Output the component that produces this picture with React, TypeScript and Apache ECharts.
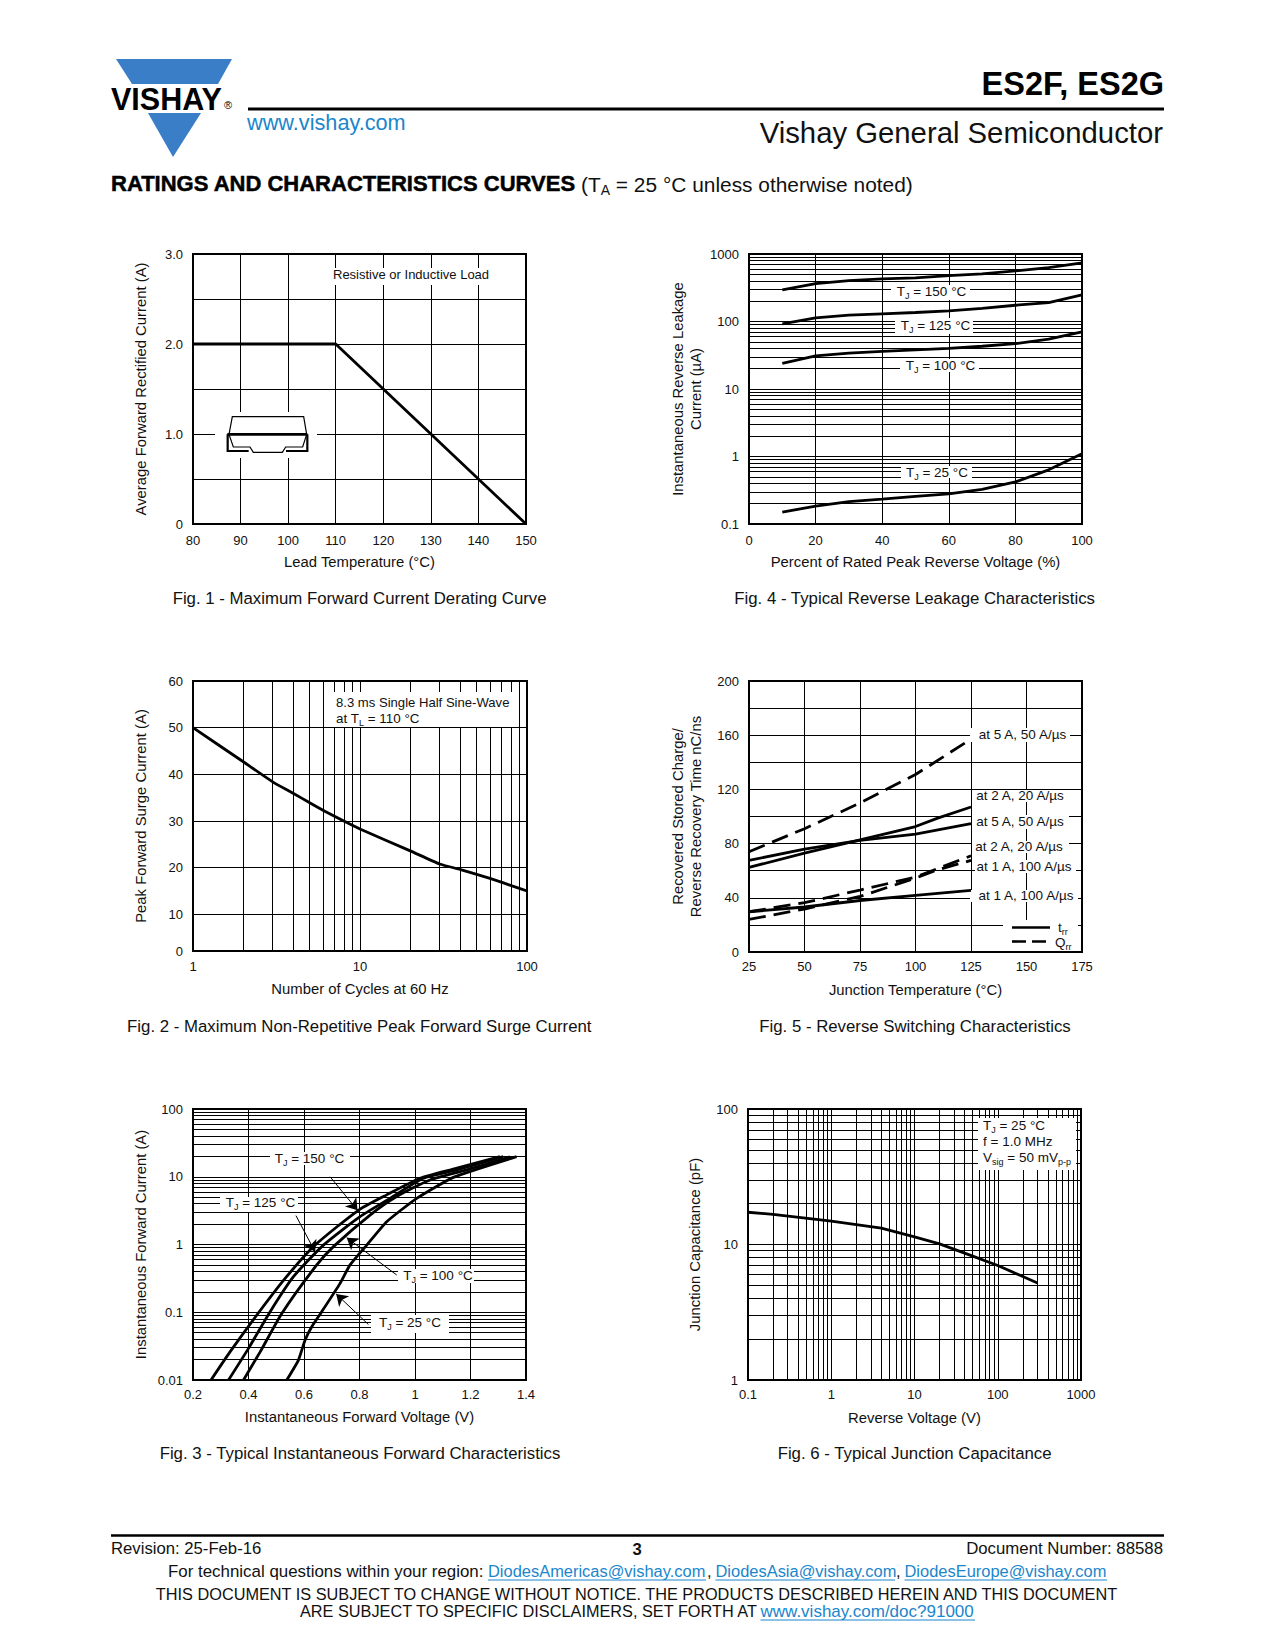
import React, { useEffect, useRef } from "react";
import * as echarts from "echarts";

const FONT = '"Liberation Sans", Arial, sans-serif';
const LINK = "#1a86cc";
const LOGO = "#3b7ec8";

// ---------- Fig. 1 ----------
const fig1Temp = [80, 110, 150];
const fig1Current = [2, 2, 0];

// ---------- Fig. 2 ----------
const fig2Cycles = [1, 2, 3, 4, 5, 6, 8, 10, 20, 30, 40, 60, 100];
const fig2Surge = [50, 42.7, 38.4, 35.9, 33.9, 32.3, 30, 28.3, 23.6, 20.8, 19.6, 17.7, 15];
const fig2AxisFloor = 2.15; // the printed "0" tick sits here on the original's scale
const fig2YTicks = [fig2AxisFloor, 10, 20, 30, 40, 50, 60];

// ---------- Fig. 3 ----------
const fig3V150 = [0.265, 0.334, 0.43, 0.532, 0.64, 0.796, 0.898, 1.018, 1.138, 1.306];
const fig3I150 = [0.01, 0.0262, 0.091, 0.316, 0.98, 3.2, 5.4, 9.5, 13, 19.8];
const fig3V125 = [0.328, 0.4, 0.478, 0.562, 0.67, 0.802, 0.91, 1.03, 1.15, 1.318];
const fig3I125 = [0.01, 0.0293, 0.102, 0.335, 0.98, 2.58, 4.8, 9.5, 12.6, 19.8];
const fig3V100 = [0.382, 0.442, 0.52, 0.646, 0.706, 0.838, 0.934, 1.054, 1.186, 1.342];
const fig3I100 = [0.01, 0.026, 0.096, 0.5, 0.93, 2.72, 5.1, 8.95, 12.6, 19.6];
const fig3V25 = [0.538, 0.58, 0.604, 0.628, 0.664, 0.73, 0.766, 0.826, 0.898, 1.006, 1.138, 1.366];
const fig3I25 = [0.01, 0.0197, 0.039, 0.0612, 0.102, 0.267, 0.5, 0.98, 2.17, 4.8, 9.8, 19.8];
const fig3Arrows = [
  [0.694, 10, 0.793, 3.2],
  [0.571, 2.67, 0.64, 0.78],
  [0.934, 0.355, 0.754, 1.26],
  [0.832, 0.066, 0.716, 0.186],
];

// ---------- Fig. 4 ----------
const fig4Percent = [10, 20, 30, 40, 50, 60, 70, 80, 90, 100];
const fig4Tj150 = [294, 365, 403, 427, 442, 479, 506, 561, 628, 736];
const fig4Tj125 = [92, 113, 124, 130, 136, 144, 157, 174, 191, 248];
const fig4Tj100 = [24, 31, 34, 36, 38, 40, 43, 47, 55, 70];
const fig4Tj25 = [0.15, 0.184, 0.214, 0.234, 0.256, 0.28, 0.325, 0.42, 0.635, 1.1];

// ---------- Fig. 5 ----------
const fig5TempA = [25, 50, 75, 100, 110, 125];
const fig5Trr2A = [62.4, 73, 82.8, 92.6, 98.8, 107];
const fig5Temp = [25, 50, 75, 100, 125];
const fig5Trr5A = [67.6, 76, 82.3, 87, 94.8];
const fig5Trr1A = [29.7, 33.2, 38, 41.8, 45.5];
const fig5TempQ5 = [25, 50, 75, 100, 124];
const fig5Qrr5A = [74, 91, 110, 131, 156];
const fig5Qrr2A = [29.7, 36.4, 45.7, 55.3, 71];
const fig5Qrr1A = [24, 31.7, 41, 54.5, 60.7, 67.6];

// ---------- Fig. 6 ----------
const fig6Volt = [0.1, 0.2, 1, 4, 10, 20, 50, 100, 300];
const fig6Cap = [17.3, 16.7, 14.9, 13.2, 11.4, 10.1, 8.2, 7.0, 5.2];

// ---------- Log-grid decades ----------
const logMinor = (decades: number[]) => {
  const out: number[] = [];
  decades.forEach((d) => [2, 3, 4, 5, 6, 7, 8, 9].forEach((m) => out.push(+(d * m).toPrecision(3))));
  return out;
};
const fig2XGrid = logMinor([1, 10]);
const fig3YGrid = logMinor([0.01, 0.1, 1, 10]);
const fig4YGrid = logMinor([0.1, 1, 10, 100]);
const fig6XGrid = logMinor([0.1, 1, 10, 100]);
const fig6YGrid = logMinor([1, 10]);

const zip = (a: number[], b: number[]) => b.map((v, i) => [a[i], v]);

function curve(i: number, xs: number[], ys: number[], name: string, dashed = false, smooth: any = false) {
  return {
    type: "line", name, xAxisIndex: i, yAxisIndex: i, data: zip(xs, ys), showSymbol: false, symbol: "none", z: 10, smooth,
    lineStyle: { color: "#000", width: 2.8, type: dashed ? [17, 8] : "solid", cap: "butt" },
  };
}
function gridLines(i: number, xv: number[], yv: number[]) {
  return {
    type: "line", xAxisIndex: i, yAxisIndex: i, data: [], z: 1, silent: true,
    markLine: {
      z: 1, silent: true, symbol: "none", label: { show: false }, animation: false,
      lineStyle: { color: "#000", width: 1, type: "solid" },
      data: [...xv.map((v) => ({ xAxis: v })), ...yv.map((v) => ({ yAxis: v }))],
    },
  };
}

const grids = [
  { left: 193, top: 254, width: 333, height: 270 },
  { left: 193, top: 681, width: 334, height: 270 },
  { left: 193, top: 1109, width: 333, height: 271 },
  { left: 749, top: 254, width: 333, height: 270 },
  { left: 749, top: 681, width: 333, height: 271 },
  { left: 748, top: 1109, width: 333, height: 271 },
];

const str = (v: number) => String(+v.toPrecision(4));
const labelStyle = (formatter: any, margin = 9) => ({ fontSize: 13, margin, color: "#111", fontFamily: FONT, formatter, showMinLabel: true, showMaxLabel: true, hideOverlap: false });
const yLabelStyle = (formatter: any) => ({ ...labelStyle(formatter, 10), padding: [0, 0, 3, 0] });
const line1 = { show: true, lineStyle: { color: "#000", width: 1 } };
function axis(gridIndex: number, name: string, extra: any, gap: number, lh = 18) {
  return {
    gridIndex, name, nameLocation: "middle", nameGap: gap,
    nameTextStyle: { fontSize: 14.85, color: "#111", fontFamily: FONT, lineHeight: lh },
    axisLine: { show: false }, axisTick: { show: false }, splitLine: line1, minorSplitLine: { show: false },
    ...extra,
  };
}

const xAxes = [
  axis(0, "Lead Temperature (°C)", { type: "value", min: 80, max: 150, interval: 10, axisLabel: labelStyle(str, 10) }, 29),
  axis(1, "Number of Cycles at 60 Hz", { type: "log", logBase: 10, min: 1, max: 100, axisLabel: labelStyle(str) }, 29),
  axis(2, "Instantaneous Forward Voltage (V)", { type: "value", min: 0.2, max: 1.4, interval: 0.2, axisLabel: labelStyle(str, 8) }, 28),
  axis(3, "Percent of Rated Peak Reverse Voltage (%)", { type: "value", min: 0, max: 100, interval: 20, axisLabel: labelStyle(str, 10) }, 29),
  axis(4, "Junction Temperature (°C)", { type: "value", min: 25, max: 175, interval: 25, axisLabel: labelStyle(str, 8) }, 29),
  axis(5, "Reverse Voltage (V)", { type: "log", logBase: 10, min: 0.1, max: 1000, axisLabel: labelStyle(str, 8) }, 29),
];
const yAxes = [
  axis(0, "Average Forward Rectified Current (A)", { type: "value", min: 0, max: 3, interval: 0.5, axisLabel: yLabelStyle((v: number) => (v === 0 ? "0" : Number.isInteger(v) ? v.toFixed(1) : "")) }, 43),
  axis(1, "Peak Forward Surge Current (A)", {
    type: "value", min: fig2AxisFloor, max: 60,
    axisLabel: { ...yLabelStyle((v: number) => (v < 5 ? "0" : String(v))), customValues: fig2YTicks },
    axisTick: { show: false, customValues: fig2YTicks },
  }, 43),
  axis(2, "Instantaneous Forward Current (A)", { type: "log", logBase: 10, min: 0.01, max: 100, axisLabel: yLabelStyle(str) }, 43),
  axis(3, "Instantaneous Reverse Leakage\nCurrent (µA)", { type: "log", logBase: 10, min: 0.1, max: 1000, axisLabel: yLabelStyle(str) }, 44),
  axis(4, "Recovered Stored Charge/\nReverse Recovery Time nC/ns", { type: "value", min: 0, max: 200, interval: 20, axisLabel: yLabelStyle((v: number) => (v % 40 === 0 ? String(v) : "")) }, 44),
  axis(5, "Junction Capacitance (pF)", { type: "log", logBase: 10, min: 1, max: 100, axisLabel: yLabelStyle(str) }, 44),
];

const series: any[] = [
  gridLines(1, fig2XGrid, []),
  gridLines(2, [], fig3YGrid),
  gridLines(3, [], fig4YGrid),
  gridLines(5, fig6XGrid, fig6YGrid),
  curve(0, fig1Temp, fig1Current, "Derating"),
  curve(1, fig2Cycles, fig2Surge, "Surge", false, 0.2),
  curve(2, fig3V150, fig3I150, "TJ = 150 °C", false, 0.2),
  curve(2, fig3V125, fig3I125, "TJ = 125 °C", false, 0.2),
  curve(2, fig3V100, fig3I100, "TJ = 100 °C", false, 0.2),
  curve(2, fig3V25, fig3I25, "TJ = 25 °C", false, 0.15),
  {
    type: "line", xAxisIndex: 2, yAxisIndex: 2, data: [], z: 12, silent: true,
    markLine: {
      z: 12, silent: true, symbol: ["none", "arrow"], symbolSize: 11, label: { show: false }, animation: false,
      lineStyle: { color: "#000", width: 1, type: "solid" },
      data: fig3Arrows.map((a) => [{ coord: [a[0], a[1]] }, { coord: [a[2], a[3]] }]),
    },
  },
  curve(3, fig4Percent, fig4Tj150, "TJ = 150 °C"),
  curve(3, fig4Percent, fig4Tj125, "TJ = 125 °C"),
  curve(3, fig4Percent, fig4Tj100, "TJ = 100 °C"),
  curve(3, fig4Percent, fig4Tj25, "TJ = 25 °C"),
  curve(4, fig5TempA, fig5Trr2A, "trr 2 A"),
  curve(4, fig5Temp, fig5Trr5A, "trr 5 A"),
  curve(4, fig5Temp, fig5Trr1A, "trr 1 A"),
  curve(4, fig5TempQ5, fig5Qrr5A, "Qrr 5 A", true),
  curve(4, fig5Temp, fig5Qrr2A, "Qrr 2 A", true),
  curve(4, fig5TempA, fig5Qrr1A, "Qrr 1 A", true),
  curve(5, fig6Volt, fig6Cap, "Cj"),
];

// ---------- Page furniture ----------
const rich = (size: number, fill = "#111") => ({
  n: { fontSize: size, fontFamily: FONT, fill, lineHeight: size + 5 },
  s: { fontSize: Math.round(size * 0.65), fontFamily: FONT, fill, verticalAlign: "bottom", lineHeight: size + 5 },
});
function text(t: string, x: number, y: number, size: number, opts: any = {}) {
  const { weight, fill, align, richText, outline } = opts;
  return {
    type: "text", x, y, z: 20, silent: true,
    style: {
      text: t, fill: fill || "#111", fontSize: size, fontFamily: FONT, fontWeight: weight || "normal",
      align: align || "left", verticalAlign: "middle", ...(richText ? { rich: rich(size, fill || "#111") } : {}),
      ...(outline ? { stroke: "#000", lineWidth: outline } : {}),
    },
  };
}
const box = (x1: number, y1: number, x2: number, y2: number) => ({
  type: "rect", z: 5, silent: true, shape: { x: x1, y: y1, width: x2 - x1, height: y2 - y1 }, style: { fill: "#fff" },
});
const stroke = (pts: number[][], lineWidth: number, color = "#000") => ({
  type: "polyline", z: 21, silent: true, shape: { points: pts }, style: { stroke: color, lineWidth, fill: "none" },
});
const rule = (x1: number, y: number, x2: number, w: number, color = "#000", z = 21) => ({
  type: "line", z, silent: true, shape: { x1, y1: y, x2, y2: y }, style: { stroke: color, lineWidth: w },
});
const sub = (a: string, b: string, c: string) => `{n|${a}}{s|${b}}{n|${c}}`;
const z = (x: number, y: number, ox: number, oy: number) => [ox + x / 3, oy + y / 3];

const icon = (pts: number[][]) => pts.map((p) => z(p[0], p[1], 120, 235));

const captions: [string, number, number][] = [
  ["Fig. 1 - Maximum Forward Current Derating Curve", 359.6, 598.5],
  ["Fig. 4 - Typical Reverse Leakage Characteristics", 914.6, 598.5],
  ["Fig. 2 - Maximum Non-Repetitive Peak Forward Surge Current", 359.3, 1026],
  ["Fig. 5 - Reverse Switching Characteristics", 915, 1026],
  ["Fig. 3 - Typical Instantaneous Forward Characteristics", 360, 1453],
  ["Fig. 6 - Typical Junction Capacitance", 914.6, 1453],
];
const fig4Labels: [string, number, number, number[]][] = [
  ["150", 931.5, 291.7, [891, 285, 970, 300]],
  ["125", 935.5, 325, [895, 318, 973, 334]],
  ["100", 940.5, 365.7, [900, 359, 979, 372]],
  ["25", 937, 472.3, [901, 466, 972, 478]],
];
const fig3Labels: [string, number, number, number[]][] = [
  ["150", 309.5, 1158.5, [270, 1152, 350, 1165]],
  ["125", 260.5, 1202, [220, 1197, 298, 1212]],
  ["100", 438, 1275.5, [398, 1269, 474, 1283]],
  ["25", 410, 1322.5, [371, 1315, 449, 1333]],
];
const fig5Labels: [string, number, number, number[]][] = [
  ["at 5 A, 50 A/µs", 1022.5, 734.7, [970, 728, 1070, 742]],
  ["at 2 A, 20 A/µs", 1020, 795.7, [972, 790, 1069, 802]],
  ["at 5 A, 50 A/µs", 1020, 821.7, [972, 815, 1069, 829]],
  ["at 2 A, 20 A/µs", 1019, 846.7, [972, 841, 1069, 853]],
  ["at 1 A, 100 A/µs", 1024, 866.7, [975, 860, 1076, 873]],
  ["at 1 A, 100 A/µs", 1026, 895.7, [970, 890, 1078, 902]],
];

const graphicElements: any[] = [
  // logo
  { type: "polygon", z: 20, silent: true, shape: { points: [[116, 59], [232, 59], [218, 84], [132, 84]] }, style: { fill: LOGO } },
  { type: "polygon", z: 20, silent: true, shape: { points: [[148, 113], [201, 113], [173, 157]] }, style: { fill: LOGO } },
  text("VISHAY", 111, 99, 30.5, { weight: "bold", fill: "#000" }),
  text("®", 224, 105, 11, { fill: "#000" }),
  // header
  text("ES2F, ES2G", 1164, 84, 32.5, { weight: "bold", align: "right", fill: "#000" }),
  rule(248, 109, 1164, 3),
  text("www.vishay.com", 247, 122.5, 21.7, { fill: LINK }),
  text("Vishay General Semiconductor", 1163, 132, 29.3, { align: "right" }),
  text("RATINGS AND CHARACTERISTICS CURVES", 111, 183, 22, { weight: "bold", fill: "#000", outline: 0.5 }),
  text(sub("(T", "A", " = 25 °C unless otherwise noted)"), 581, 184, 20.9, { richText: true }),
  // captions
  ...captions.map((c) => text(c[0], c[1], c[2], 16.8, { align: "center" })),
  // Fig. 1 notes and package outline
  box(333, 268, 491, 285),
  text("Resistive or Inductive Load", 333, 274.5, 13),
  box(215, 412, 317, 458),
  stroke(icon([[327, 598], [337, 545], [551, 545], [560, 598]]), 1.2),
  stroke(icon([[327, 598], [340, 636], [390, 636], [400, 652], [487, 652], [497, 636], [548, 636], [560, 598]]), 1.2),
  stroke(icon([[322, 598], [562, 598]]), 2.6),
  stroke(icon([[323, 598], [323, 648], [386, 648]]), 2.2),
  stroke(icon([[562, 598], [562, 648], [498, 648]]), 2.2),
  // Fig. 2 note
  box(324, 692, 518, 727),
  text("8.3 ms Single Half Sine-Wave", 336, 702.7, 13.1),
  text(sub("at T", "L", " = 110 °C"), 336, 718.5, 13.4, { richText: true }),
  // Fig. 3, 4 temperature labels
  ...[...fig3Labels, ...fig4Labels].flatMap((l) => [
    box(l[3][0], l[3][1], l[3][2], l[3][3]),
    text(sub("T", "J", ` = ${l[0]} °C`), l[1], l[2], 13.5, { richText: true, align: "center" }),
  ]),
  // Fig. 5 labels and key
  ...fig5Labels.flatMap((l) => [box(l[3][0], l[3][1], l[3][2], l[3][3]), text(l[0], l[1], l[2], 13.5, { align: "center" })]),
  box(1003, 920, 1078, 951),
  rule(1012, 927.5, 1050, 2.6),
  { ...rule(1012, 941.5, 1050, 2.6), style: { stroke: "#000", lineWidth: 2.6, lineDash: [14, 6] } },
  text(sub("t", "rr", ""), 1058, 927, 13.5, { richText: true }),
  text(sub("Q", "rr", ""), 1055, 942, 13.5, { richText: true }),
  // Fig. 6 note
  box(978, 1118, 1076, 1170),
  text(sub("T", "J", " = 25 °C"), 983, 1125.7, 13.5, { richText: true }),
  text("f = 1.0 MHz", 983, 1141.7, 13.5),
  text(sub("V", "sig", " = 50 mV") + "{s|p-p}", 983, 1157, 13.5, { richText: true }),
  // footer
  rule(111, 1535.5, 1164, 2.5),
  text("Revision: 25-Feb-16", 111, 1548.5, 16.7),
  text("3", 637, 1549.5, 16.6, { weight: "bold", align: "center" }),
  text("Document Number: 88588", 1163, 1548.5, 16.8, { align: "right" }),
  text("For technical questions within your region:", 168, 1571, 16.9),
  text("DiodesAmericas@vishay.com", 488, 1571, 16.45, { fill: LINK }),
  rule(488, 1580, 706, 1, LINK),
  text(",", 707, 1571, 16.4),
  text("DiodesAsia@vishay.com", 715.5, 1571, 16.45, { fill: LINK }),
  rule(715.5, 1580, 895, 1, LINK),
  text(",", 896, 1571, 16.4),
  text("DiodesEurope@vishay.com", 904.5, 1571, 16.45, { fill: LINK }),
  rule(904.5, 1580, 1107, 1, LINK),
  text("THIS DOCUMENT IS SUBJECT TO CHANGE WITHOUT NOTICE. THE PRODUCTS DESCRIBED HEREIN AND THIS DOCUMENT", 636.5, 1594, 16.3, { align: "center" }),
  text("ARE SUBJECT TO SPECIFIC DISCLAIMERS, SET FORTH AT", 300, 1611, 16.3),
  text("www.vishay.com/doc?91000", 760.5, 1611, 17, { fill: LINK }),
  rule(760.5, 1620, 975, 1, LINK),
];

export default function App() {
  const ref = useRef<HTMLDivElement>(null);
  useEffect(() => {
    document.body.style.margin = "0";
    const chart = echarts.init(ref.current!, null, { renderer: "svg" });
    chart.setOption({
      animation: false,
      backgroundColor: "#fff",
      textStyle: { fontFamily: FONT },
      grid: grids.map((g) => ({ ...g, show: true, borderColor: "#000", borderWidth: 2, backgroundColor: "transparent", containLabel: false })),
      xAxis: xAxes,
      yAxis: yAxes,
      series,
      graphic: { elements: graphicElements },
    });
    return () => chart.dispose();
  }, []);
  return <div ref={ref} style={{ position: "absolute", left: 0, top: 0, width: 1275, height: 1650, background: "#fff" }} />;
}
